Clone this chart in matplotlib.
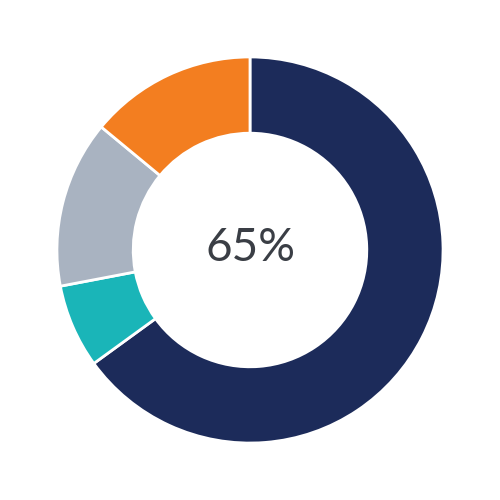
import matplotlib
matplotlib.use("Agg")
import matplotlib.pyplot as plt

labels = ["Navy", "Teal", "Gray", "Orange"]
values = [65, 7, 14, 14]
colors = ["#1c2b5a", "#1ab5b8", "#a9b3c1", "#f37e20"]
center_text = "65%"

fig = plt.figure(figsize=(5, 5), dpi=100)
ax = fig.add_axes([0, 0, 1, 1])
ax.pie(values, colors=colors, startangle=90, counterclock=False,
       radius=1.0,
       wedgeprops=dict(width=0.395, edgecolor="white", linewidth=2))
ax.set_xlim(-1.295, 1.295)
ax.set_ylim(-1.295, 1.295)
ax.set_aspect("equal")
ax.axis("off")
ax.text(0, 0.01, center_text, ha="center", va="center", fontsize=33,
        family=["Lato", "DejaVu Sans"], fontweight="normal", color="#3a3e45")
fig.savefig("out.png", dpi=100, facecolor="white")
